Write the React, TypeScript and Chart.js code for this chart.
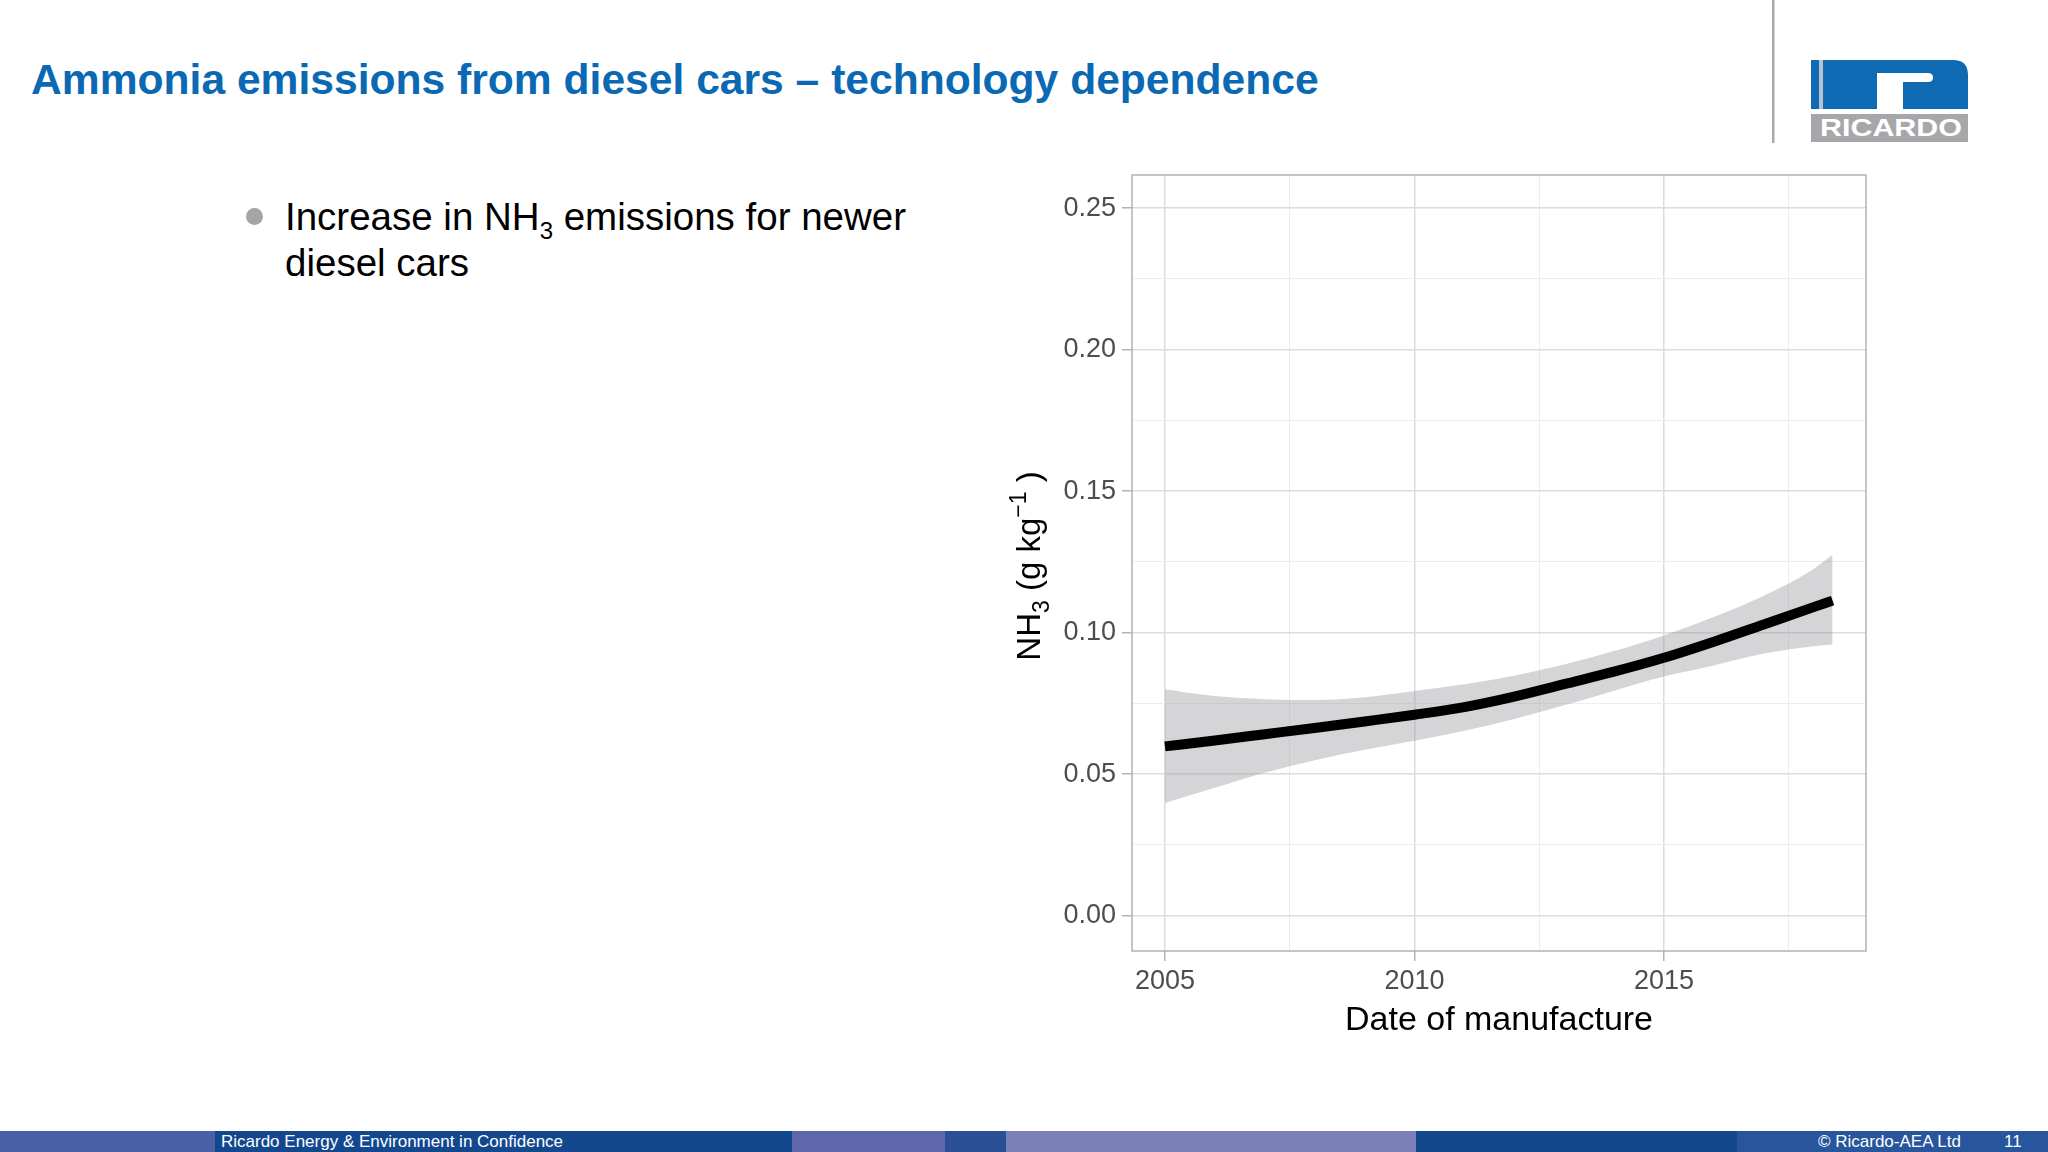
import React, { useEffect, useRef } from "react";
import { Chart, registerables } from "chart.js";

Chart.register(...registerables);

// Fitted NH3 emission factor (g/kg) against date of manufacture, with confidence band
const YEARS = [2005, 2006, 2007, 2008, 2009, 2010, 2011, 2012, 2013, 2014, 2015, 2016, 2017, 2018, 2018.38];
const FIT = [0.0598, 0.0619, 0.0641, 0.0663, 0.0686, 0.071, 0.0737, 0.0774, 0.0818, 0.0862, 0.0911, 0.0968, 0.1029, 0.109, 0.1113];
const UPPER = [0.08, 0.0776, 0.0765, 0.0762, 0.0772, 0.0794, 0.0818, 0.0848, 0.0887, 0.0935, 0.099, 0.1055, 0.113, 0.1225, 0.1276];
const LOWER = [0.0398, 0.0452, 0.0505, 0.0549, 0.0586, 0.0618, 0.0653, 0.0695, 0.0743, 0.0795, 0.0845, 0.0884, 0.0926, 0.0952, 0.0958];

const Y_TICKS = [0, 0.025, 0.05, 0.075, 0.1, 0.125, 0.15, 0.175, 0.2, 0.225, 0.25];
const Y_MAJOR = [0, 0.05, 0.1, 0.15, 0.2, 0.25];
const X_TICKS = [2005, 2007.5, 2010, 2012.5, 2015, 2017.5];
const X_MAJOR = [2005, 2010, 2015];

const FONT = "'Liberation Sans', Arial, Helvetica, sans-serif";
const GRID_MAJOR = "#dcdce0";
const GRID_MINOR = "#ededf0";
const FRAME = "#b3b3b3";

const isIn = (list: number[], v: number) => list.some((m) => Math.abs(m - v) < 1e-6);

const pts = (ys: number[]) => YEARS.map((x, i) => ({ x, y: ys[i] }));

const framePlugin = {
  id: "frameAndTitles",
  afterDraw(chart: any) {
    const { ctx, chartArea } = chart;
    const { left, right, top, bottom } = chartArea;
    ctx.save();
    // panel border
    ctx.strokeStyle = FRAME;
    ctx.lineWidth = 1.5;
    ctx.strokeRect(left, top, right - left, bottom - top);

    // x axis title
    ctx.fillStyle = "#000";
    ctx.font = `34px ${FONT}`;
    ctx.textAlign = "center";
    ctx.textBaseline = "alphabetic";
    ctx.fillText("Date of manufacture", (left + right) / 2, bottom + 79);

    // y axis title with sub/superscripts
    const big = `33px ${FONT}`;
    const small = `23px ${FONT}`;
    const parts = [
      { t: "NH", f: big, dy: 0 },
      { t: "3", f: small, dy: 9 },
      { t: " (g kg", f: big, dy: 0 },
      { t: "\u22121", f: small, dy: -14 },
      { t: " )", f: big, dy: 0 },
    ];
    ctx.translate(left - 104, (top + bottom) / 2 + 3);
    ctx.rotate(-Math.PI / 2);
    ctx.textAlign = "left";
    let total = 0;
    for (const p of parts) {
      ctx.font = p.f;
      total += ctx.measureText(p.t).width;
    }
    let x = -total / 2;
    for (const p of parts) {
      ctx.font = p.f;
      ctx.fillText(p.t, x, 12 + p.dy);
      x += ctx.measureText(p.t).width;
    }
    ctx.restore();
  },
};

function NH3Chart() {
  const ref = useRef<HTMLCanvasElement | null>(null);
  useEffect(() => {
    if (!ref.current) return;
    const chart = new Chart(ref.current, {
      type: "line",
      data: {
        datasets: [
          {
            label: "fit",
            data: pts(FIT),
            borderColor: "#000",
            borderWidth: 10,
            borderCapStyle: "butt",
            pointRadius: 0,
            cubicInterpolationMode: "monotone",
            fill: false,
          },
          {
            label: "upper",
            data: pts(UPPER),
            borderWidth: 0,
            borderColor: "rgba(0,0,0,0)",
            backgroundColor: "rgba(150,150,156,0.4)",
            pointRadius: 0,
            cubicInterpolationMode: "monotone",
            fill: "+1",
          },
          {
            label: "lower",
            data: pts(LOWER),
            borderWidth: 0,
            borderColor: "rgba(0,0,0,0)",
            pointRadius: 0,
            cubicInterpolationMode: "monotone",
            fill: false,
          },
        ],
      },
      options: {
        animation: false,
        responsive: false,
        devicePixelRatio: 1,
        layout: { padding: { top: 25, right: 34, left: 0, bottom: 0 } },
        plugins: { legend: { display: false }, tooltip: { enabled: false } },
        scales: {
          x: {
            type: "linear",
            min: 2004.34,
            max: 2019.05,
            afterBuildTicks: (s: any) => {
              s.ticks = X_TICKS.map((value) => ({ value }));
            },
            afterFit: (s: any) => {
              s.height = 119;
            },
            border: { display: false },
            grid: {
              color: (c: any) => (c.tick && isIn(X_MAJOR, c.tick.value) ? GRID_MAJOR : GRID_MINOR),
              lineWidth: (c: any) => (c.tick && isIn(X_MAJOR, c.tick.value) ? 1.5 : 1),
              tickColor: (c: any) => (c.tick && isIn(X_MAJOR, c.tick.value) ? FRAME : "rgba(0,0,0,0)"),
              tickLength: 10,
              tickWidth: 1.5,
            },
            ticks: {
              autoSkip: false,
              maxRotation: 0,
              padding: 4,
              color: "#4d4d4d",
              font: { family: FONT, size: 27 },
              callback: (v: any) => (isIn(X_MAJOR, Number(v)) ? String(v) : ""),
            },
          },
          y: {
            type: "linear",
            min: -0.0125,
            max: 0.2617,
            afterBuildTicks: (s: any) => {
              s.ticks = Y_TICKS.map((value) => ({ value }));
            },
            afterFit: (s: any) => {
              s.width = 172;
            },
            border: { display: false },
            grid: {
              color: (c: any) => (c.tick && isIn(Y_MAJOR, c.tick.value) ? GRID_MAJOR : GRID_MINOR),
              lineWidth: (c: any) => (c.tick && isIn(Y_MAJOR, c.tick.value) ? 1.5 : 1),
              tickColor: (c: any) => (c.tick && isIn(Y_MAJOR, c.tick.value) ? FRAME : "rgba(0,0,0,0)"),
              tickLength: 10,
              tickWidth: 1.5,
            },
            ticks: {
              autoSkip: false,
              padding: 6,
              color: "#4d4d4d",
              font: { family: FONT, size: 27 },
              callback: (v: any) => (isIn(Y_MAJOR, Number(v)) ? Number(v).toFixed(2) : ""),
            },
          },
        },
      },
      plugins: [framePlugin],
    } as any);
    return () => chart.destroy();
  }, []);
  return (
    <canvas
      ref={ref}
      width={940}
      height={920}
      style={{ position: "absolute", left: 960, top: 150, width: 940, height: 920 }}
    />
  );
}

const FOOTER = [
  { x: 0, w: 215, c: "#4a5fa6" },
  { x: 215, w: 577, c: "#13488f" },
  { x: 792, w: 153, c: "#5f67ab" },
  { x: 945, w: 61, c: "#2a4f94" },
  { x: 1006, w: 410, c: "#7c80b9" },
  { x: 1416, w: 321, c: "#13488f" },
  { x: 1737, w: 311, c: "#27569c" },
];

function Logo() {
  return (
    <svg
      width={200}
      height={150}
      viewBox="1770 0 200 150"
      style={{ position: "absolute", left: 1770, top: 0 }}
    >
      <rect x={1772} y={0} width={2.5} height={143} fill="#a9a9a9" />
      <path d="M1811 60 H1953 Q1968 60 1968 75 V109 H1811 Z" fill="#0f6ab4" />
      <rect x={1819} y={60} width={4} height={49} fill="#b8c2ce" />
      <path d="M1877 73 H1928 Q1933 73 1933 77.5 Q1933 82 1928 82 H1903 V109 H1877 Z" fill="#ffffff" />
      <rect x={1811} y={114} width={157} height={28} fill="#a7a7a9" />
      <text
        x={1820}
        y={136}
        textLength={142}
        lengthAdjust="spacingAndGlyphs"
        fill="#ffffff"
        style={{ font: `bold 23px ${FONT}` }}
      >
        RICARDO
      </text>
    </svg>
  );
}

export default function App() {
  return (
    <div
      style={{
        position: "absolute",
        left: 0,
        top: 0,
        width: 2048,
        height: 1152,
        overflow: "hidden",
        background: "#ffffff",
        fontFamily: FONT,
      }}
    >
      <div
        style={{
          position: "absolute",
          left: 31,
          top: 55,
          fontSize: 42.6,
          lineHeight: "48px",
          fontWeight: "bold",
          color: "#0b69b4",
          whiteSpace: "nowrap",
        }}
      >
        Ammonia emissions from diesel cars – technology dependence
      </div>

      <Logo />

      <div
        style={{
          position: "absolute",
          left: 246,
          top: 208,
          width: 17,
          height: 17,
          borderRadius: "50%",
          background: "#a5a5a5",
        }}
      />
      <div
        style={{
          position: "absolute",
          left: 285,
          top: 194,
          fontSize: 38.5,
          lineHeight: "46px",
          color: "#000",
          whiteSpace: "nowrap",
        }}
      >
        Increase in NH
        <span style={{ fontSize: 24, lineHeight: "0", position: "relative", top: 9 }}>3</span> emissions for newer
        <br />
        diesel cars
      </div>

      <NH3Chart />

      {FOOTER.map((s, i) => (
        <div
          key={i}
          style={{ position: "absolute", left: s.x, top: 1131, width: s.w, height: 21, background: s.c }}
        />
      ))}
      <div
        style={{
          position: "absolute",
          left: 221,
          top: 1131,
          height: 21,
          lineHeight: "21px",
          fontSize: 17,
          color: "#fff",
          whiteSpace: "nowrap",
        }}
      >
        Ricardo Energy &amp; Environment in Confidence
      </div>
      <div
        style={{
          position: "absolute",
          left: 1818,
          top: 1131,
          height: 21,
          lineHeight: "21px",
          fontSize: 17,
          color: "#fff",
          whiteSpace: "nowrap",
        }}
      >
        © Ricardo-AEA Ltd
      </div>
      <div
        style={{
          position: "absolute",
          left: 2004,
          top: 1131,
          height: 21,
          lineHeight: "21px",
          fontSize: 17,
          color: "#fff",
          whiteSpace: "nowrap",
        }}
      >
        11
      </div>
    </div>
  );
}
